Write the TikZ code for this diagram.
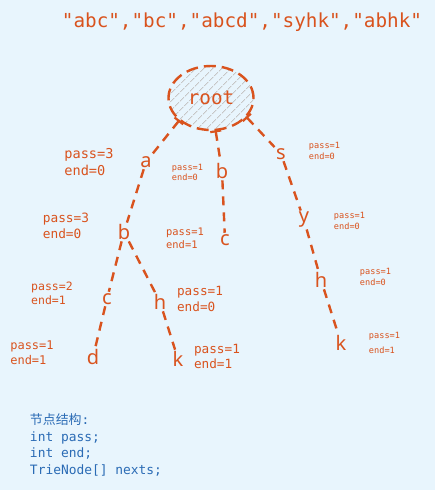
\documentclass[tikz,border=0pt]{standalone}
\usepackage{fontspec}
\setmonofont{DejaVu Sans Mono}
\newfontfamily\letterfont{Noto Sans}
\newfontfamily\cjk{Noto Sans CJK SC}
\usepackage{xcolor}
\usetikzlibrary{positioning,shapes.geometric,arrows.meta,patterns.meta}
\definecolor{triered}{HTML}{D9531E}
\definecolor{codeblue}{HTML}{2A6BB5}
\definecolor{paper}{HTML}{E8F5FD}

\begin{document}
\begin{tikzpicture}[x=1pt, y=-1pt, on grid, line width=2.4pt, triered,
    root node/.style={ellipse, draw, dash pattern=on 12pt off 6pt,
      minimum width=85pt, minimum height=64pt,
      pattern={Lines[angle=45,distance=6.5pt,line width=0.8pt]}, pattern color=gray!45,
      font=\ttfamily\fontsize{19.3}{23}\selectfont},
    letter node/.style={inner sep=0.5pt, font=\letterfont\fontsize{20}{24}\selectfont},
    info/.style 2 args={align=left, inner sep=0pt, font=\ttfamily\fontsize{#1}{#2}\selectfont},
    branch/.style={dash pattern=on 9pt off 7pt},
    root tip/.style={arrows={Bar[width=11pt,line width=2.2pt]-}}]

  \fill[paper] (0,0) rectangle (435,490);
  \useasboundingbox (0,0) rectangle (435,490);

  \node[root node] (root) at (211,98) {root};
  \node[font=\ttfamily\fontsize{19.3}{23}\selectfont] (words) [above right=76pt and 31pt of root]
    {"abc","bc","abcd","syhk","abhk"};

  % trie letters
  \node[letter node] (a) [below left=64pt and 65pt of root] {a};
  \node[letter node] (b) [below right=73pt and 11pt of root] {b};
  \node[letter node] (s) [below right=56pt and 70pt of root] {s};
  \node[letter node] (ab) [below left=70pt and 22pt of a] {b};
  \node[letter node] (abc) [below left=67pt and 17pt of ab] {c};
  \node[letter node] (abcd) [below left=58pt and 14pt of abc] {d};
  \node[letter node] (abh) [below right=70pt and 36pt of ab] {h};
  \node[letter node] (abhk) [below right=57pt and 18pt of abh] {k};
  \node[letter node] (bc) [below right=69pt and 3pt of b] {c};
  \node[letter node] (sy) [below right=66pt and 23pt of s] {y};
  \node[letter node] (syh) [below right=60pt and 17pt of sy] {h};
  \node[letter node] (syhk) [below right=63pt and 20pt of syh] {k};

  % pass / end counters
  \node[info={13.6}{17}] (info a) [left=57pt of a] {pass=3\\end=0};
  \node[info={8.6}{10.5}] (info b) [below left=1.5pt and 34.5pt of b] {pass=1\\end=0};
  \node[info={8.6}{10.5}] (info s) [above right=3pt and 43.5pt of s] {pass=1\\end=0};
  \node[info={12.8}{16}] (info ab) [above left=6.5pt and 58pt of ab] {pass=3\\end=0};
  \node[info={10.4}{13}] (info bc) [above left=1.5pt and 40pt of bc] {pass=1\\end=1};
  \node[info={8.6}{10.5}] (info sy) [below right=1pt and 45.5pt of sy] {pass=1\\end=0};
  \node[info={11.5}{14}] (info abc) [above left=6pt and 55pt of abc] {pass=2\\end=1};
  \node[info={12.7}{16}] (info abh) [above right=3pt and 40pt of abh] {pass=1\\end=0};
  \node[info={8.6}{11}] (info syh) [above right=3.5pt and 54.5pt of syh] {pass=1\\end=0};
  \node[info={12}{15}] (info abcd) [above left=4.5pt and 61pt of abcd] {pass=1\\end=1};
  \node[info={12.7}{15.5}] (info abhk) [above right=2.5pt and 39pt of abhk] {pass=1\\end=1};
  \node[info={8.6}{15}] (info syhk) [above right=0.5pt and 43.5pt of syhk] {pass=1\\end=1};

  \node[info={12.9}{16.5}, codeblue] (struct) [below right=88pt and 3pt of abcd]
    {{\cjk 节点结构}:\\int pass;\\int end;\\TrieNode[] nexts;};

  \path[branch]
    (root.-145) edge[root tip] (a)
    (root.-82) edge[root tip] (b)
    (root.-28) edge[root tip] (s)
    (a) edge (ab)
    (ab) edge (abc)
         edge (abh)
    (abc) edge (abcd)
    (abh) edge (abhk)
    (b) edge (bc)
    (s) edge (sy)
    (sy) edge (syh)
    (syh) edge (syhk);
\end{tikzpicture}
\end{document}
